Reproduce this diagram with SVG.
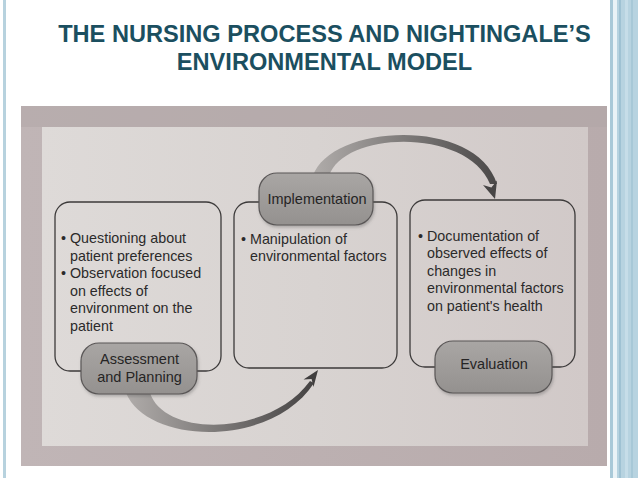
<svg xmlns="http://www.w3.org/2000/svg" width="638" height="478" viewBox="0 0 638 478">
  <defs>
    <linearGradient id="paper" x1="0" y1="0" x2="1" y2="0">
      <stop offset="0" stop-color="#dedad8"/>
      <stop offset="0.5" stop-color="#d8d3d1"/>
      <stop offset="1" stop-color="#d1c9c8"/>
    </linearGradient>
    <linearGradient id="frame" x1="0" y1="0" x2="1" y2="0">
      <stop offset="0" stop-color="#c0b5b6"/>
      <stop offset="1" stop-color="#b8abac"/>
    </linearGradient>
    <linearGradient id="pill" x1="0" y1="0" x2="0" y2="1">
      <stop offset="0" stop-color="#a9a6a4"/>
      <stop offset="1" stop-color="#94918f"/>
    </linearGradient>
    <linearGradient id="arcTop" x1="0" y1="0" x2="1" y2="0">
      <stop offset="0" stop-color="#b0acaa"/>
      <stop offset="1" stop-color="#4a4848"/>
    </linearGradient>
    <linearGradient id="arcBot" x1="0" y1="0" x2="1" y2="0">
      <stop offset="0" stop-color="#b0acaa"/>
      <stop offset="1" stop-color="#454343"/>
    </linearGradient>
    <filter id="sh" x="-10%" y="-10%" width="130%" height="140%">
      <feDropShadow dx="1" dy="2" stdDeviation="1.5" flood-color="#555" flood-opacity="0.35"/>
    </filter>
  </defs>
  <style>
    .title { font-family: "Liberation Sans", Arial, sans-serif; font-weight: bold; font-size: 23.6px; fill: #1b4f60; text-anchor: middle; }
    .box { fill: none; stroke: #3c3a3a; stroke-width: 1.3; }
    .pill { fill: url(#pill); stroke: #5a5757; stroke-width: 1.2; filter: url(#sh); }
    .body { font-family: "Liberation Sans", Arial, sans-serif; font-size: 14.3px; fill: #2b2a2a; }
    .lbl { font-family: "Liberation Sans", Arial, sans-serif; font-size: 14.5px; fill: #262525; text-anchor: middle; }
  </style>

  <!-- slide -->
  <rect x="0" y="0" width="638" height="478" fill="#ffffff"/>
  <rect x="3" y="0" width="3" height="478" fill="#b7d2de"/>
  <rect x="610" y="0" width="3" height="478" fill="#a9c9d8"/>
  <rect x="613" y="0" width="4" height="478" fill="#eaf3f7"/>
  <rect x="617" y="0" width="21" height="478" fill="#b7d3e0"/>
  <rect x="619" y="0" width="2" height="478" fill="#9fc2d3"/>
  <rect x="625" y="0" width="3" height="478" fill="#c6dde8"/>
  <rect x="631" y="0" width="2" height="478" fill="#a7c8d7"/>

  <text class="title" x="324.5" y="42">THE NURSING PROCESS AND NIGHTINGALE’S</text>
  <text class="title" x="324.5" y="70">ENVIRONMENTAL MODEL</text>

  <!-- photo background -->
  <rect x="21" y="106" width="586" height="360" fill="url(#frame)"/>
  <rect x="21" y="106" width="586" height="21" fill="#b0a5a6" opacity="0.5"/>
  <rect x="42" y="127" width="546" height="319" fill="url(#paper)"/>

  <!-- connectors -->
  <g id="connectors">
    <path d="M 313 176 C 330 124, 476 116, 497 184 L 490 184 C 468 128, 344 130, 329 176 Z" fill="url(#arcTop)"/>
    <polygon points="495,199 497,180.5 491.4,187.6 483,184.9" fill="#474545"/>
    <path d="M 126 393 C 148 445, 272 448, 314 383 L 310 381 C 270 436, 165 438, 150 393 Z" fill="url(#arcBot)"/>
    <polygon points="318,370 313.5,387 311.6,379 303.5,379.5" fill="#403e3e"/>
  </g>

  <!-- nodes -->
  <g id="assessment-box">
    <rect class="box" x="55" y="202" width="166" height="169" rx="15"/>
    <text class="body" x="61" y="243">•</text>
    <text class="body" x="70" y="243">Questioning about</text>
    <text class="body" x="70" y="260.5">patient preferences</text>
    <text class="body" x="61" y="278">•</text>
    <text class="body" x="70" y="278">Observation focused</text>
    <text class="body" x="70" y="295.5">on effects of</text>
    <text class="body" x="70" y="313">environment on the</text>
    <text class="body" x="70" y="330.5">patient</text>
  </g>
  <g id="implementation-box">
    <rect class="box" x="234" y="202" width="163" height="166" rx="15"/>
    <text class="body" x="241" y="243.5">•</text>
    <text class="body" x="250" y="243.5">Manipulation of</text>
    <text class="body" x="250" y="261">environmental factors</text>
  </g>
  <g id="evaluation-box">
    <rect class="box" x="410" y="200" width="165" height="167" rx="15"/>
    <text class="body" x="418" y="241">•</text>
    <text class="body" x="427" y="241">Documentation of</text>
    <text class="body" x="427" y="258.4">observed effects of</text>
    <text class="body" x="427" y="275.8">changes in</text>
    <text class="body" x="427" y="293.2">environmental factors</text>
    <text class="body" x="427" y="310.6">on patient's health</text>
  </g>

  <g id="implementation">
    <rect class="pill" x="259" y="173" width="114" height="52" rx="18"/>
    <text class="lbl" x="317" y="204">Implementation</text>
  </g>
  <g id="assessment-planning">
    <rect class="pill" x="81" y="343" width="116" height="51" rx="18"/>
    <text class="lbl" x="139.5" y="364">Assessment</text>
    <text class="lbl" x="139.5" y="382">and Planning</text>
  </g>
  <g id="evaluation">
    <rect class="pill" x="435" y="341" width="117" height="52" rx="18"/>
    <text class="lbl" x="494" y="369">Evaluation</text>
  </g>
</svg>
